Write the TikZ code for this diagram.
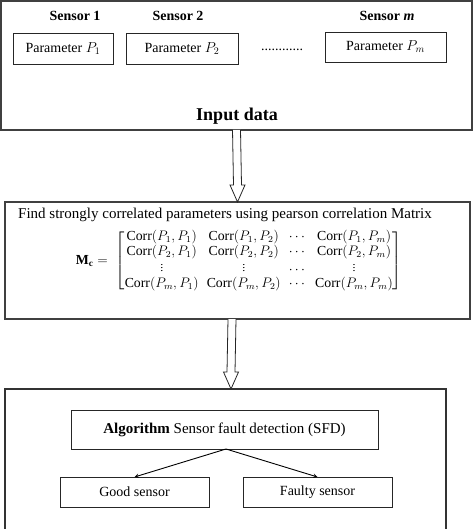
\documentclass[tikz,border=0pt]{standalone}
\usepackage{amsmath}
\usepackage{fontspec}
\setmainfont{Liberation Serif}
\usetikzlibrary{calc}

\tikzset{
  panel/.style={draw=black!75,line width=1.6pt},
  parbox/.style={draw=black!85,line width=0.9pt,minimum height=31pt},
  resbox/.style={draw=black!85,line width=0.9pt,minimum height=30pt,minimum width=149pt},
  sensorlabel/.style={font=\fontsize{14}{16}\selectfont\bfseries}
}

% hollow arrow between two panels
\newcommand{\hollowarrow}[2]{%
  \path[draw=black!85,line width=0.8pt,fill=white] ($(#1)+(-4,0)$) -- ($(#2)+(-4,-17)$) -- ($(#2)+(-7.5,-17)$) -- (#2)
    -- ($(#2)+(7.5,-17)$) -- ($(#2)+(4,-17)$) -- ($(#1)+(4,0)$);}
\newcommand{\shortvdots}{\raisebox{1.5pt}{\scalebox{1}[0.7]{$\vdots$}}}

\begin{document}
\begin{tikzpicture}[y=1pt, x=1pt, yscale=-1, xscale=1, inner sep=0pt, outer sep=0pt,
  font=\fontsize{14}{16}\selectfont]

  \path[use as bounding box,fill=white] (0,0) rectangle (474,529);

  % input panel
  \path (236.5,65.5) node[panel,minimum width=471pt,minimum height=129pt] (inputpanel) {};
  \path (75,16) node[sensorlabel] (text1001) {Sensor 1};
  \path (178,16) node[sensorlabel] (text1002) {Sensor 2};
  \path (387,16) node[sensorlabel] (text1003) {Sensor \textit{m}};
  \path (63,48.5) node[parbox,minimum width=100pt] (par1) {Parameter $P_1$};
  \path (182,48.5) node[parbox,minimum width=112pt] (par2) {Parameter $P_2$};
  \path (385.5,47) node[parbox,minimum width=121pt,minimum height=30pt] (parm) {Parameter $P_m$};
  \path (282,50) node (text1004) {............};
  \path (237,116) node[font=\fontsize{18}{20}\selectfont\bfseries] (text1005) {Input data};

  % correlation panel
  \path (237.5,260.5) node[panel,line width=1.1pt,minimum width=465pt,minimum height=117pt] (corrpanel) {};
  \path (225,215) node[font=\fontsize{15}{17}\selectfont] (text1006) {Find strongly correlated parameters using pearson correlation Matrix};
  \path (239,261) node[font=\fontsize{12}{12}\selectfont,scale=1.15] (matrix1) {$\mathbf{M}_{\mathbf{c}} =\; {\setlength{\arraycolsep}{3.5pt}
    \begin{bmatrix}
      \mathrm{Corr}(P_1,P_1) & \mathrm{Corr}(P_1,P_2) & \cdots & \mathrm{Corr}(P_1,P_m)\\
      \mathrm{Corr}(P_2,P_1) & \mathrm{Corr}(P_2,P_2) & \cdots & \mathrm{Corr}(P_2,P_m)\\
      \shortvdots & \shortvdots & \cdots & \shortvdots\\
      \mathrm{Corr}(P_m,P_1) & \mathrm{Corr}(P_m,P_2) & \cdots & \mathrm{Corr}(P_m,P_m)
    \end{bmatrix}}$};

  % detection panel
  \path[draw=black!80,line width=1.1pt] (5,535) -- (5,389) coordinate (detpanel) -- (446,389) -- (446,535);
  \path (224.5,429.5) node[draw=black!85,line width=0.9pt,minimum width=307pt,minimum height=39pt] (algo)
    {\fontsize{15}{17}\selectfont\textbf{Algorithm} Sensor fault detection (SFD)};
  \path (134.5,492) node[resbox] (good) {Good sensor};
  \path (317.5,492) node[resbox] (faulty) {Faulty sensor};

  \path[draw=black,line width=0.9pt,-stealth] ([xshift=1.5pt]algo.south) -- (good.north);
  \path[draw=black,line width=0.9pt,-stealth] ([xshift=1.5pt]algo.south) -- (faulty.north);

  % arrows between panels
  \hollowarrow{inputpanel.south}{corrpanel.north}
  \hollowarrow{[xshift=-5.5pt]corrpanel.south}{[xshift=6.5pt]detpanel -| algo.north}

\end{tikzpicture}
\end{document}
